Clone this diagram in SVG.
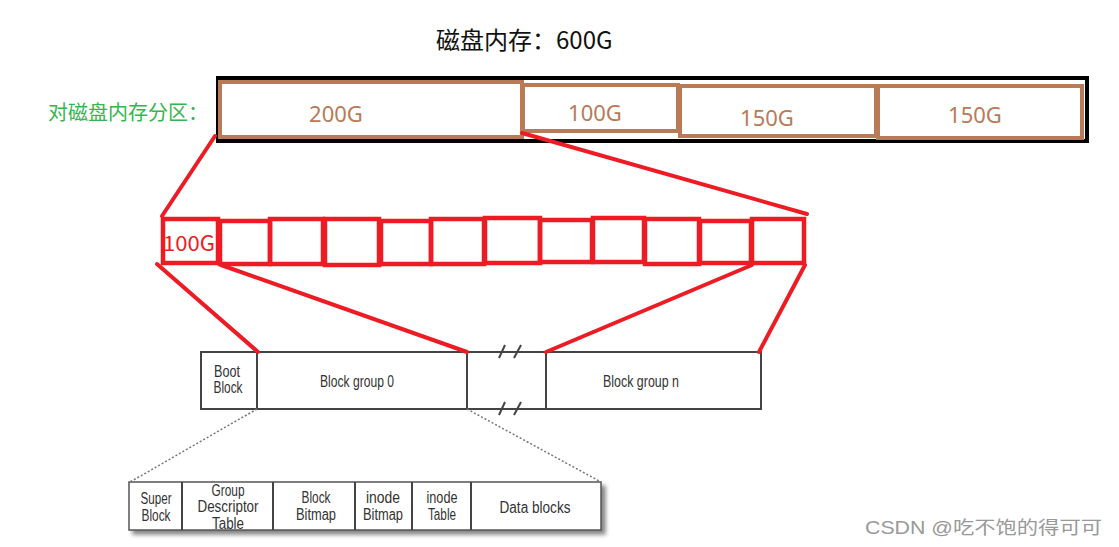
<svg xmlns="http://www.w3.org/2000/svg" width="1119" height="547" viewBox="0 0 1119 547">
<defs>
<style>
.cjk{font-family:"Noto Sans CJK SC","Noto Sans",sans-serif}
.brn{fill:none;stroke:#b97a57;stroke-width:4}
.brt{font-family:"Noto Sans","Noto Sans CJK SC",sans-serif;font-size:22px;fill:#b97a57;text-anchor:middle}
.red{fill:none;stroke:#ed1c24;stroke-width:4.5}
.rl{stroke:#ed1c24;stroke-width:4;stroke-linecap:round}
.gb{fill:#fff;stroke:#444;stroke-width:2}
.gl{stroke:#444;stroke-width:2;fill:none}
.dot{stroke:#777;stroke-width:1.5;stroke-dasharray:2 2;fill:none}
.gt{font-family:"Liberation Sans Narrow","Liberation Sans",sans-serif;font-size:16px;fill:#333;text-anchor:middle}
</style>
<filter id="sh" x="-5%" y="-20%" width="115%" height="150%">
<feDropShadow dx="4" dy="4" stdDeviation="2" flood-color="#555" flood-opacity="0.7"/>
</filter>
</defs>
<rect width="1119" height="547" fill="#fff"/>

<g id="title"><text class="cjk" x="436" y="49" font-size="24" fill="#111">磁盘内存：600G</text></g>
<g id="partition-label"><text class="cjk" x="48" y="120" font-size="20" fill="#35b550">对磁盘内存分区：</text></g>

<g id="disk">
<rect x="218" y="78" width="869" height="63" fill="#fff" stroke="#000" stroke-width="4"/>
</g>
<g id="p1"><rect class="brn" x="220" y="82" width="302" height="55"/><text class="brt" x="336" y="122">200G</text></g>
<g id="p2"><rect class="brn" x="523" y="85" width="155" height="46"/><text class="brt" x="595" y="121">100G</text></g>
<g id="p3"><rect class="brn" x="680" y="86" width="196" height="50"/><text class="brt" x="767" y="126">150G</text></g>
<g id="p4"><rect class="brn" x="878" y="86" width="204" height="52"/><text class="brt" x="975" y="123">150G</text></g>

<g id="groups">
<rect class="red" x="163" y="219" width="55" height="44"/>
<rect class="red" x="220" y="221" width="50" height="43"/>
<rect class="red" x="270" y="219" width="53" height="45"/>
<rect class="red" x="325" y="219" width="54" height="46"/>
<rect class="red" x="381" y="221" width="50" height="43"/>
<rect class="red" x="431" y="219" width="53" height="45"/>
<rect class="red" x="485" y="218" width="55" height="45"/>
<rect class="red" x="540" y="220" width="52" height="42"/>
<rect class="red" x="593" y="218" width="51" height="44"/>
<rect class="red" x="645" y="219" width="54" height="45"/>
<rect class="red" x="700" y="221" width="51" height="42"/>
<rect class="red" x="752" y="219" width="52" height="44"/>
<text class="cjk" x="189" y="251" font-size="21" fill="#ed1c24" text-anchor="middle" textLength="52" lengthAdjust="spacingAndGlyphs">100G</text>
</g>

<g id="boot"><rect class="gb" x="201" y="352" width="56" height="57"/><text class="gt" x="227" y="377" textLength="26" lengthAdjust="spacingAndGlyphs">Boot</text><text class="gt" x="228" y="393" textLength="29" lengthAdjust="spacingAndGlyphs">Block</text></g>
<g id="bg0"><rect class="gb" x="257" y="352" width="210" height="57"/><text class="gt" x="357" y="387" textLength="74" lengthAdjust="spacingAndGlyphs">Block group 0</text></g>
<g id="gap">
<line class="gl" x1="467" y1="352" x2="546" y2="352"/>
<line class="gl" x1="467" y1="409" x2="546" y2="409"/>
<line class="gl" x1="499" y1="358" x2="505" y2="345"/>
<line class="gl" x1="514" y1="358" x2="521" y2="345"/>
<line class="gl" x1="499" y1="415" x2="505" y2="402"/>
<line class="gl" x1="514" y1="415" x2="521" y2="402"/>
</g>
<g id="bgn"><rect class="gb" x="546" y="352" width="215" height="57"/><text class="gt" x="641" y="387" textLength="76" lengthAdjust="spacingAndGlyphs">Block group n</text></g>

<g id="detail">
<rect x="129" y="482" width="472" height="48" fill="#fff" stroke="#555" stroke-width="1.5" filter="url(#sh)"/>
<line class="gl" x1="182" y1="482" x2="182" y2="530" stroke-width="1.5"/>
<line class="gl" x1="273" y1="482" x2="273" y2="530" stroke-width="1.5"/>
<line class="gl" x1="355" y1="482" x2="355" y2="530" stroke-width="1.5"/>
<line class="gl" x1="412" y1="482" x2="412" y2="530" stroke-width="1.5"/>
<line class="gl" x1="471" y1="482" x2="471" y2="530" stroke-width="1.5"/>
<text class="gt" x="156" y="504" textLength="31" lengthAdjust="spacingAndGlyphs">Super</text>
<text class="gt" x="156" y="521" textLength="29" lengthAdjust="spacingAndGlyphs">Block</text>
<text class="gt" x="228" y="496" textLength="33" lengthAdjust="spacingAndGlyphs">Group</text>
<text class="gt" x="228" y="512" textLength="61" lengthAdjust="spacingAndGlyphs">Descriptor</text>
<text class="gt" x="228" y="529" textLength="32" lengthAdjust="spacingAndGlyphs">Table</text>
<text class="gt" x="316" y="503" textLength="29" lengthAdjust="spacingAndGlyphs">Block</text>
<text class="gt" x="316" y="520" textLength="40" lengthAdjust="spacingAndGlyphs">Bitmap</text>
<text class="gt" x="383" y="503" textLength="34" lengthAdjust="spacingAndGlyphs">inode</text>
<text class="gt" x="383" y="520" textLength="40" lengthAdjust="spacingAndGlyphs">Bitmap</text>
<text class="gt" x="442" y="503" textLength="31" lengthAdjust="spacingAndGlyphs">inode</text>
<text class="gt" x="442" y="520" textLength="28" lengthAdjust="spacingAndGlyphs">Table</text>
<text class="gt" x="535" y="513" textLength="71" lengthAdjust="spacingAndGlyphs">Data blocks</text>
</g>

<g id="connectors">
<line class="rl" x1="215" y1="136" x2="162" y2="216"/>
<line class="rl" x1="522" y1="133" x2="807" y2="214"/>
<line class="rl" x1="157" y1="264" x2="258" y2="352"/>
<line class="rl" x1="221" y1="265" x2="467" y2="352"/>
<line class="rl" x1="752" y1="265" x2="546" y2="352"/>
<line class="rl" x1="805" y1="265" x2="759" y2="352"/>
<line class="dot" x1="257" y1="409" x2="130" y2="482"/>
<line class="dot" x1="467" y1="409" x2="601" y2="482"/>
</g>

<g id="watermark"><text x="865" y="534" font-family="Liberation Sans, Noto Sans CJK SC, sans-serif" font-size="18" fill="#999" textLength="237" lengthAdjust="spacingAndGlyphs">CSDN @吃不饱的得可可</text></g>
</svg>
